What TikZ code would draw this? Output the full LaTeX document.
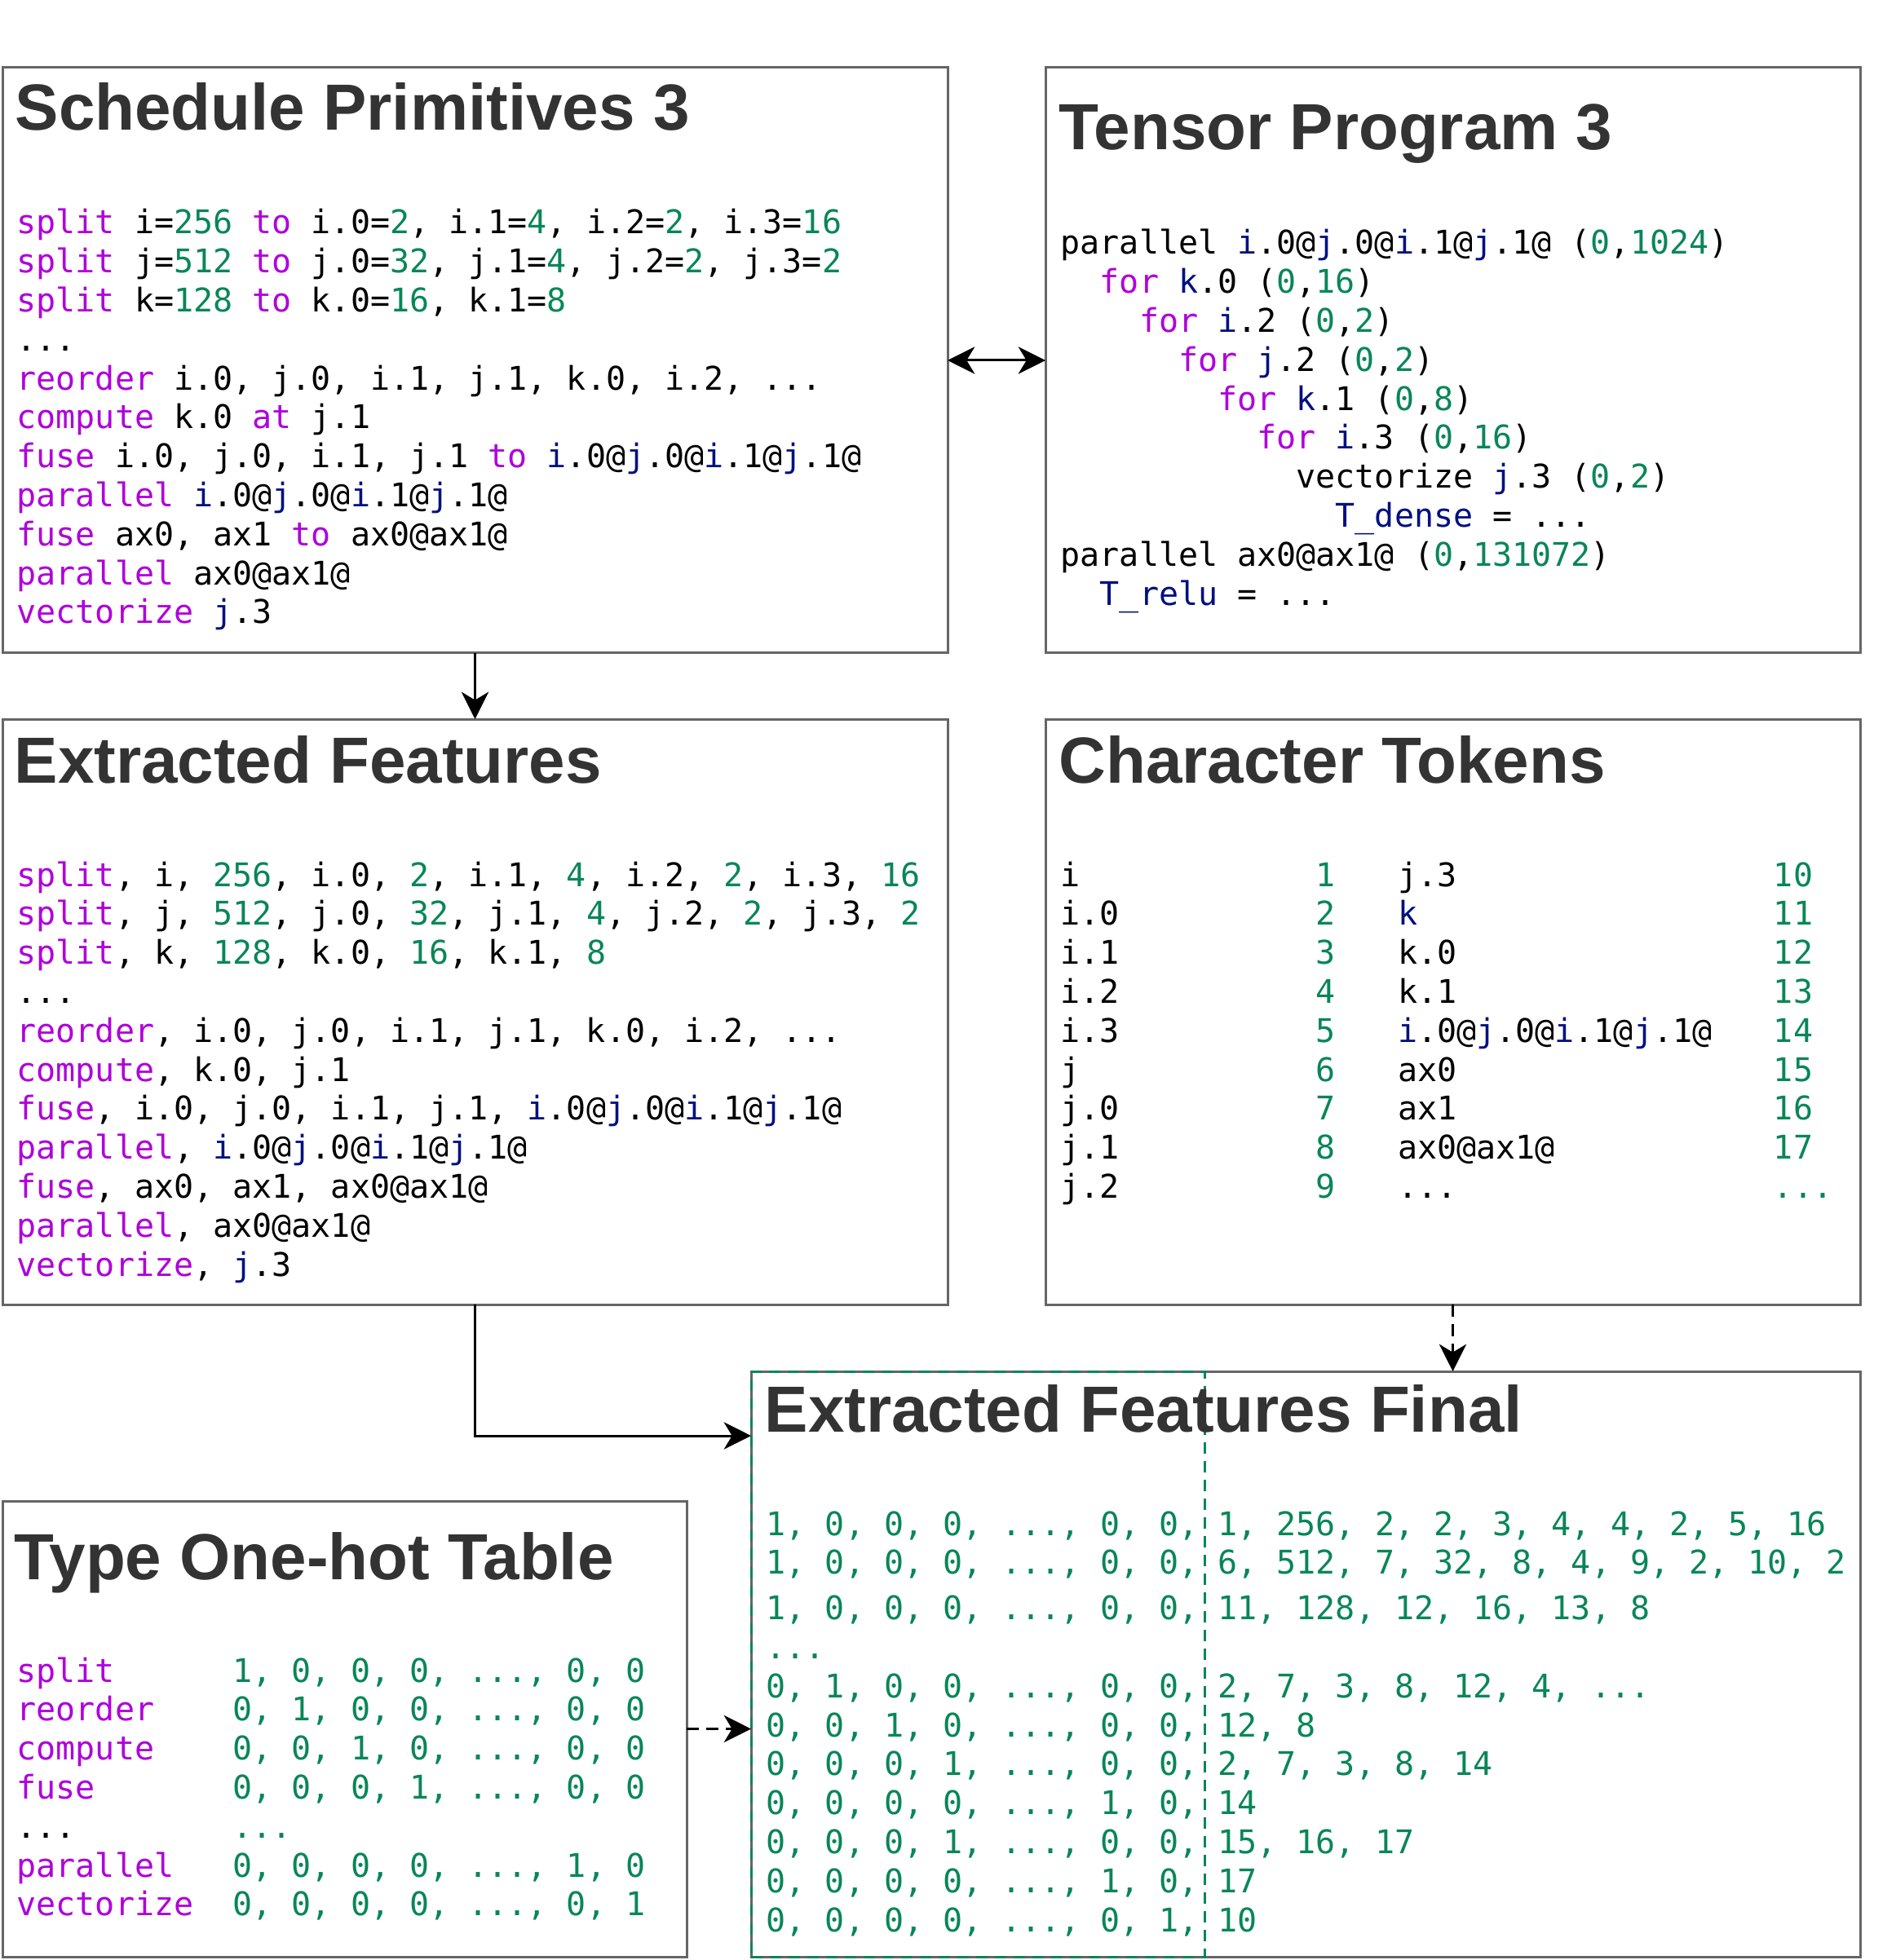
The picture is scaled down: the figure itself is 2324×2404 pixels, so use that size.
\documentclass[tikz,border=0pt]{standalone}
\usepackage{fontspec}
\setmainfont{Liberation Sans}
\newfontfamily\codefont{DejaVu Sans Mono}
\usetikzlibrary{arrows.meta}
\definecolor{kwc}{HTML}{AF00DB}
\definecolor{numc}{HTML}{098658}
\definecolor{varc}{HTML}{001080}
\definecolor{ttlc}{HTML}{333333}
\definecolor{brdc}{HTML}{666666}
\newcommand\KW[1]{\textcolor{kwc}{#1}}
\newcommand\NM[1]{\textcolor{numc}{#1}}
\newcommand\VR[1]{\textcolor{varc}{#1}}
\newcommand\ijpath{\VR{i}.0@\VR{j}.0@\VR{i}.1@\VR{j}.1@}
\newcommand\codesize{\codefont\fontsize{12}{14.34}\selectfont}
\newlength\cw
\settowidth{\cw}{\codesize 0}
\newcommand\ind[1]{\hspace*{#1\cw}}
\newcommand\codelines[1]{{\renewcommand\arraystretch{1}\setlength\tabcolsep{0pt}\begin{tabular}[t]{@{}l@{}}#1\end{tabular}}}
\tikzset{
  box/.style={draw=brdc, line width=0.9pt, rectangle, inner sep=0pt, outer sep=0pt, anchor=north west},
  greenbox/.style={draw=numc, line width=0.9pt, dash pattern=on 4.2pt off 2.7pt, rectangle, inner sep=0pt, outer sep=0pt, anchor=north west},
  ttl/.style={anchor=base west, inner sep=0pt, text=ttlc, font=\fontsize{24}{28}\selectfont\bfseries},
  code/.style={anchor=base west, inner sep=0pt, font=\codesize\frenchspacing},
  arr/.style={draw=black, line width=0.9pt, -{Stealth[length=10pt,width=10pt,inset=3pt]}},
  dblarr/.style={draw=black, line width=0.9pt, {Stealth[length=10pt,width=10pt,inset=3pt]}-{Stealth[length=10pt,width=10pt,inset=3pt]}},
  dasharr/.style={arr, dash pattern=on 4.5pt off 2.7pt},
}
\begin{document}
\begin{tikzpicture}[x=0.3pt, y=-0.3pt]
\useasboundingbox (0,0) rectangle (2324,2404);
% boxes
\node[box, minimum width=347.7pt, minimum height=215.4pt] (sp) at (3,83) {};
\node[box, minimum width=299.7pt, minimum height=215.4pt] (tp) at (1282,83) {};
\node[box, minimum width=347.7pt, minimum height=215.4pt] (ef) at (3,882) {};
\node[box, minimum width=299.7pt, minimum height=215.4pt] (ct) at (1282,882) {};
\node[box, minimum width=408pt, minimum height=215.4pt] (eff) at (921,1682) {};
\node[box, minimum width=251.7pt, minimum height=167.7pt] (toh) at (3,1841) {};
\node[greenbox, minimum width=166.8pt, minimum height=215.4pt] (effl) at (921,1682) {};

% Schedule Primitives
\node[ttl] (spt) at (18,160) {Schedule Primitives 3};
\node[code] (spc) at (20,287) {\codelines{%
\KW{split} i=\NM{256} \KW{to} i.0=\NM{2}, i.1=\NM{4}, i.2=\NM{2}, i.3=\NM{16}\\
\KW{split} j=\NM{512} \KW{to} j.0=\NM{32}, j.1=\NM{4}, j.2=\NM{2}, j.3=\NM{2}\\
\KW{split} k=\NM{128} \KW{to} k.0=\NM{16}, k.1=\NM{8}\\
...\\
\KW{reorder} i.0, j.0, i.1, j.1, k.0, i.2, ...\\
\KW{compute} k.0 \KW{at} j.1\\
\KW{fuse} i.0, j.0, i.1, j.1 \KW{to} \ijpath\\
\KW{parallel} \ijpath\\
\KW{fuse} ax0, ax1 \KW{to} ax0@ax1@\\
\KW{parallel} ax0@ax1@\\
\KW{vectorize} \VR{j}.3}};

% Tensor Program
\node[ttl] (tpt) at (1298,184) {Tensor Program 3};
\node[code] (tpc) at (1300,312) {\codelines{%
parallel \ijpath{} (\NM{0},\NM{1024})\\
\ind{2}\KW{for} \VR{k}.0 (\NM{0},\NM{16})\\
\ind{4}\KW{for} \VR{i}.2 (\NM{0},\NM{2})\\
\ind{6}\KW{for} \VR{j}.2 (\NM{0},\NM{2})\\
\ind{8}\KW{for} \VR{k}.1 (\NM{0},\NM{8})\\
\ind{10}\KW{for} \VR{i}.3 (\NM{0},\NM{16})\\
\ind{12}vectorize \VR{j}.3 (\NM{0},\NM{2})\\
\ind{14}\VR{T\_dense} = ...\\
parallel ax0@ax1@ (\NM{0},\NM{131072})\\
\ind{2}\VR{T\_relu} = ...}};

% Extracted Features
\node[ttl] (eft) at (17,960) {Extracted Features};
\node[code] (efc) at (20,1087) {\codelines{%
\KW{split}, i, \NM{256}, i.0, \NM{2}, i.1, \NM{4}, i.2, \NM{2}, i.3, \NM{16}\\
\KW{split}, j, \NM{512}, j.0, \NM{32}, j.1, \NM{4}, j.2, \NM{2}, j.3, \NM{2}\\
\KW{split}, k, \NM{128}, k.0, \NM{16}, k.1, \NM{8}\\
...\\
\KW{reorder}, i.0, j.0, i.1, j.1, k.0, i.2, ...\\
\KW{compute}, k.0, j.1\\
\KW{fuse}, i.0, j.0, i.1, j.1, \ijpath\\
\KW{parallel}, \ijpath\\
\KW{fuse}, ax0, ax1, ax0@ax1@\\
\KW{parallel}, ax0@ax1@\\
\KW{vectorize}, \VR{j}.3}};

% Character Tokens
\node[ttl] (ctt) at (1298,960) {Character Tokens};
\node[code] (cta) at (1300,1087) {\codelines{i\\i.0\\i.1\\i.2\\i.3\\j\\j.0\\j.1\\j.2}};
\node[code, text=numc] (ctb) at ([xshift=13\cw]1300,1087) {\codelines{1\\2\\3\\4\\5\\6\\7\\8\\9}};
\node[code] (ctc) at ([xshift={17\cw+1.2pt}]1300,1087) {\codelines{j.3\\\VR{k}\\k.0\\k.1\\\ijpath\\ax0\\ax1\\ax0@ax1@\\...}};
\node[code, text=numc] (ctd) at ([xshift={36\cw+2.2pt}]1300,1087) {\codelines{10\\11\\12\\13\\14\\15\\16\\17\\...}};

% Extracted Features Final
\node[ttl] (efft) at (937,1756) {Extracted Features Final};
\node[code, text=numc] (effc) at (939,1883) {\codelines{%
1, 0, 0, 0, ..., 0, 0, 1, 256, 2, 2, 3, 4, 4, 2, 5, 16\\
1, 0, 0, 0, ..., 0, 0, 6, 512, 7, 32, 8, 4, 9, 2, 10, 2\\[2.4pt]
1, 0, 0, 0, ..., 0, 0, 11, 128, 12, 16, 13, 8\\
...\\
0, 1, 0, 0, ..., 0, 0, 2, 7, 3, 8, 12, 4, ...\\
0, 0, 1, 0, ..., 0, 0, 12, 8\\
0, 0, 0, 1, ..., 0, 0, 2, 7, 3, 8, 14\\
0, 0, 0, 0, ..., 1, 0, 14\\
0, 0, 0, 1, ..., 0, 0, 15, 16, 17\\
0, 0, 0, 0, ..., 1, 0, 17\\
0, 0, 0, 0, ..., 0, 1, 10}};

% Type One-hot Table
\node[ttl] (toht) at (17,1937) {Type One-hot Table};
\node[code] (toha) at (20,2063) {\codelines{\KW{split}\\\KW{reorder}\\\KW{compute}\\\KW{fuse}\\...\\\KW{parallel}\\\KW{vectorize}}};
\node[code, text=numc] (tohb) at ([xshift=11\cw]20,2063) {\codelines{%
1, 0, 0, 0, ..., 0, 0\\
0, 1, 0, 0, ..., 0, 0\\
0, 0, 1, 0, ..., 0, 0\\
0, 0, 0, 1, ..., 0, 0\\
...\\
0, 0, 0, 0, ..., 1, 0\\
0, 0, 0, 0, ..., 0, 1}};

% connectors
\draw[arr] (sp.south) -- (ef.north);
\draw[dblarr] (sp.east) -- (tp.west);
\draw[arr] (ef.south) |- ([yshift=-23.7pt]eff.north west);
\draw[dasharr] (ct.south) -- (ct.south |- eff.north);
\draw[dasharr] (toh.east) -- (toh.east -| eff.west);
\end{tikzpicture}
\end{document}
